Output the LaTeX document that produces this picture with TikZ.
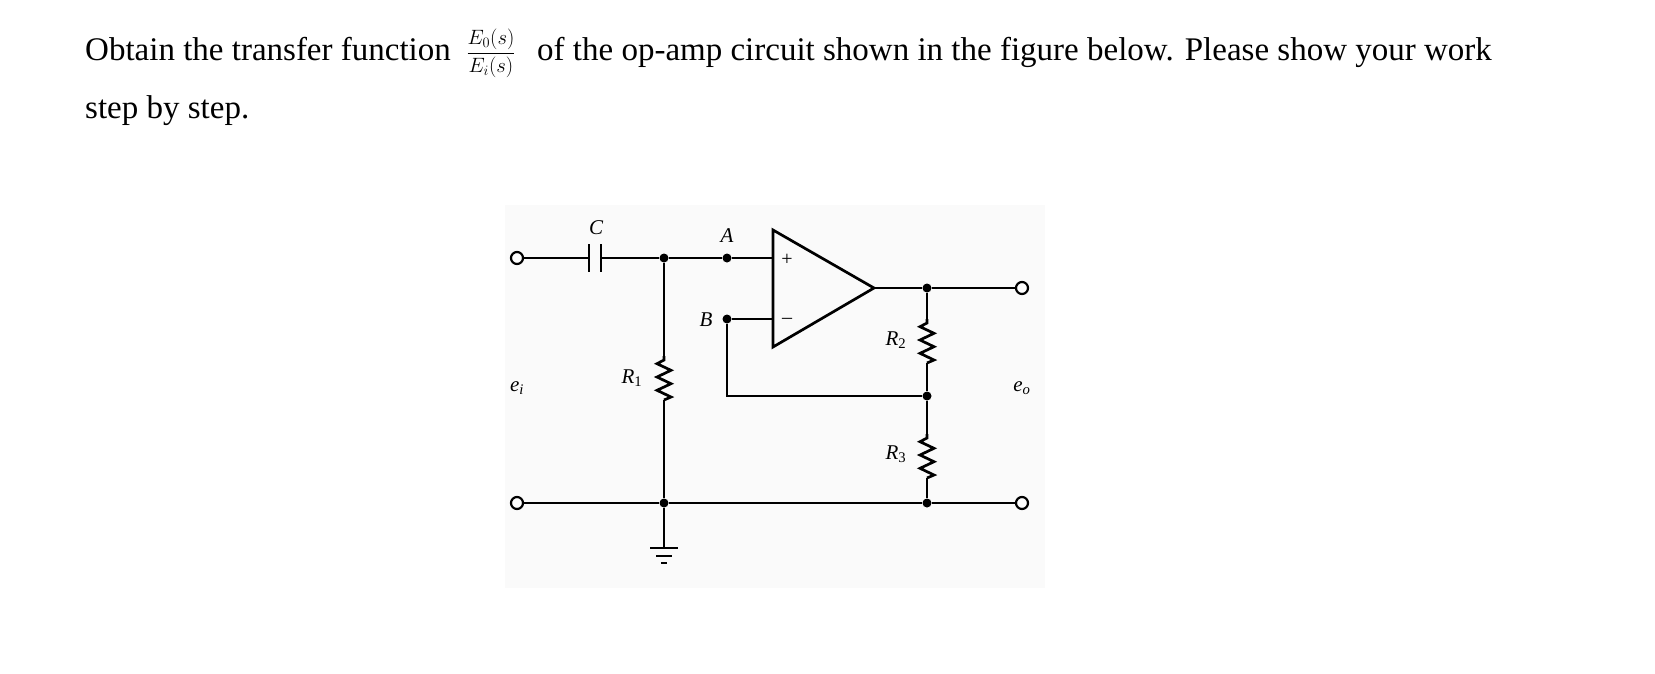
\documentclass[tikz,border=0pt]{standalone}
\usepackage{fontspec}
\setmainfont{Liberation Serif}
\begin{document}
\begin{tikzpicture}[x=1pt,y=-1pt,
  w/.style={line width=2.7pt},
  dot/.style={circle,fill=black,inner sep=0pt,minimum size=9pt},
  term/.style={circle,draw=black,line width=2.2pt,fill=white,inner sep=0pt,minimum size=12pt},
  lab/.style={font=\fontsize{21}{22}\selectfont\itshape,inner sep=0pt},
  pics/res/.style={code={\draw[w,line join=miter] (0,0) -- (0,4) -- (-7,7.7) -- (7,14.3) -- (-7,21) -- (7,27.7) -- (-7,34.3) -- (7,41) -- (0,44);}}]
\useasboundingbox (0,0) rectangle (1655,673);
\fill[black!2] (505,205) rectangle (1045,588);
\node[anchor=base west,inner sep=0pt,font=\fontsize{33}{36}\selectfont] (t1) at (85,60) {Obtain the transfer function};
\node[inner sep=0pt,font=\fontsize{22}{24}\selectfont] (fr) at (491,53) {$\displaystyle\frac{E_0(s)}{E_i(s)}$};
\node[anchor=base west,inner sep=0pt,font=\fontsize{33}{36}\selectfont] (t2) at (537,60) {of the op-amp circuit shown in the figure below. Please show your work};
\node[anchor=base west,inner sep=0pt,font=\fontsize{33}{36}\selectfont] (t3) at (85,118) {step by step.};
% nodes
\node[term] (i1) at (517,258) {};
\node[term] (i2) at (517,503) {};
\node[term] (o1) at (1022,288) {};
\node[term] (o2) at (1022,503) {};
\node[dot] (j1) at (664,258) {};
\node[dot] (A) at (727,258) {};
\node[dot] (B) at (727,319) {};
\node[dot] (jo) at (927,288) {};
\node[dot] (jf) at (927,396) {};
\node[dot] (jb1) at (664,503) {};
\node[dot] (jb2) at (927,503) {};
\coordinate (c1) at (589,258);
\coordinate (c2) at (601,258);
\coordinate (ol) at (773,258);
\coordinate (olm) at (773,319);
\coordinate (otip) at (874,288);
\coordinate (gnd) at (664,548);
% capacitor
\draw[w] (i1) -- (c1); \draw[w] (c1 |- 0,244) -- (c1 |- 0,272);
\draw[w] (c2 |- 0,244) -- (c2 |- 0,272);
\draw[w] (c2) -- (j1) -- (A) -- (ol);
\draw[w] (B) -- (olm);
% opamp
\draw[w,line join=miter] (773,230) -- (773,347) -- (otip) -- cycle;
\node[font=\fontsize{20}{20}\selectfont] at (787,260) {+};
\node[font=\fontsize{20}{20}\selectfont] at (787,321) {\textendash};
\draw[w] (otip) -- (jo) -- (o1);
% R2 R3
\draw[w] (jo) -- (927,319); \pic at (927,319) {res}; \draw[w] (927,363) -- (jf);
\draw[w] (jf) -- (927,434); \pic at (927,434) {res}; \draw[w] (927,478) -- (jb2);
\draw[w] (B) -- (727,396) -- (jf);
% R1
\draw[w] (j1) -- (664,356); \pic at (664,356) {res}; \draw[w] (664,400) -- (jb1);
\draw[w] (i2) -- (jb1) -- (jb2) -- (o2);
\draw[w] (jb1) -- (gnd);
\draw[w] (650,548) -- (678,548); \draw[w] (656,556) -- (672,556); \draw[w] (661,563) -- (667,563);
% labels
\node[lab] at (596,228) {C};
\node[lab] at (727,236) {A};
\node[lab] at (706,320) {B};
\node[lab] at (896,340) {R\textsubscript{\upshape2}};
\node[lab] at (896,454) {R\textsubscript{\upshape3}};
\node[lab] at (632,378) {R\textsubscript{\upshape1}};
\node[lab] at (517,388) {e\textsubscript{i}};
\node[lab] at (1022,388) {e\textsubscript{o}};
\end{tikzpicture}
\end{document}
